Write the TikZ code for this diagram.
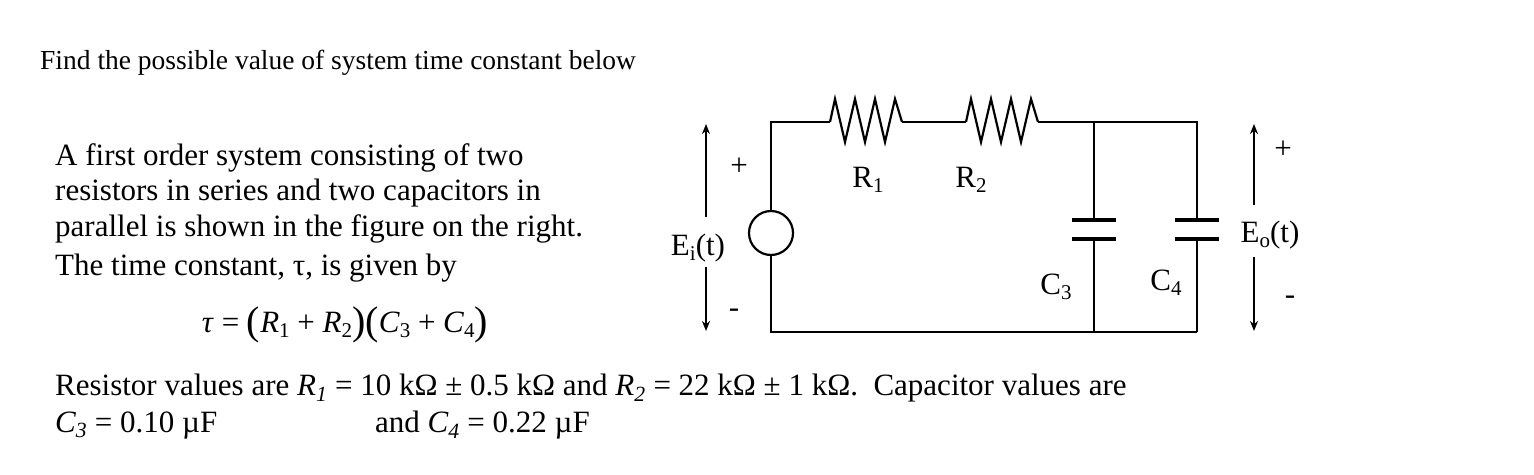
\documentclass[tikz,border=0pt]{standalone}
\usepackage{fontspec}
\setmainfont{Liberation Serif}
\usetikzlibrary{arrows.meta}
\newcommand{\lowsub}[1]{\raisebox{-0.35ex}{\fontsize{21}{24}\selectfont #1}}
\begin{document}
\begin{tikzpicture}[x=1pt,y=-1pt,
  wire/.style={line width=2.2pt},
  plate/.style={line width=3.5pt},
  txt/.style={anchor=west,inner sep=0pt,font=\fontsize{31}{34}\selectfont},
  lbl/.style={inner sep=0pt,font=\fontsize{31}{34}\selectfont},
  vol/.style={line width=1.8pt,-{Stealth[length=10pt,width=8pt]}}]
\useasboundingbox (0,0) rectangle (1534,474);

\tikzset{
  zigzag/.pic={
    \draw[wire] (0,0) -- (5,-23) -- (15,20) -- (25,-23) -- (35,20) -- (45,-23) -- (55,20) -- (65,-23) -- (72,0);
  }
}

\node[txt,font=\fontsize{27.5}{30}\selectfont] (title) at (40,63) {Find the possible value of system time constant below};
\node[txt] (l1) at (55,158) {A first order system consisting of two};
\node[txt] (l2) at (55,193) {resistors in series and two capacitors in};
\node[txt] (l3) at (55,229) {parallel is shown in the figure on the right.};
\node[txt] (l4) at (55,268) {The time constant, τ, is given by};
\node[lbl] (eq) at (345,325) {\textit{τ} = \raisebox{-2pt}{\fontsize{40}{40}\selectfont(}\textit{R}\lowsub{1} + \textit{R}\lowsub{2}\raisebox{-2pt}{\fontsize{40}{40}\selectfont)(}\textit{C}\lowsub{3} + \textit{C}\lowsub{4}\raisebox{-2pt}{\fontsize{40}{40}\selectfont)}};
\node[txt] (l5) at (55,388) {Resistor values are \textit{R\textsubscript{1}} = 10 kΩ ± 0.5 kΩ and \textit{R\textsubscript{2}} = 22 kΩ ± 1 kΩ.\ \ Capacitor values are};
\node[txt] (l6) at (55,425) {\textit{C\textsubscript{3}} = 0.10 µF};
\node[txt] (l7) at (375,425) {and \textit{C\textsubscript{4}} = 0.22 µF};

% circuit
\coordinate (tl) at (771,122);
\coordinate (bl) at (771,332);
\coordinate (r1a) at (830,122);
\coordinate (r1b) at (902,122);
\coordinate (r2a) at (966,122);
\coordinate (r2b) at (1038,122);
\coordinate (c3t) at (1094,122);
\coordinate (c3b) at (1094,332);
\coordinate (c4t) at (1197,122);
\coordinate (c4b) at (1197,332);
\node[draw,circle,line width=2.2pt,minimum size=44pt,inner sep=0pt] (src) at (771,233) {};
\draw[wire] (src.north) -- (tl) -- (r1a);
\pic at (r1a) {zigzag};
\draw[wire] (r1b) -- (r2a);
\pic at (r2a) {zigzag};
\draw[wire] (r2b) -- (c4t) -- (1197,220);
\draw[wire] (c3t) -- (1094,220);
\draw[plate] (1072,220) -- (1116,220) (1072,239) -- (1116,239);
\draw[plate] (1175,220) -- (1219,220) (1175,239) -- (1219,239);
\draw[line width=1.4pt] (1094,239) -- (c3b) (1197,239) -- (c4b);
\draw[wire] (src.south) -- (bl) -- (c4b);

\node[lbl] (r1) at (868,180) {R\lowsub{1}};
\node[lbl] (r2) at (971,180) {R\lowsub{2}};
\node[lbl] (c3) at (1056,287) {C\lowsub{3}};
\node[lbl] (c4) at (1166,283) {C\lowsub{4}};

\node[lbl] (ei) at (698,248) {E\lowsub{i}(t)};
\draw[vol] (706,217) -- (706,124);
\draw[vol] (706,267) -- (706,331);
\node[lbl] (eip) at (739,167) {+};
\node[lbl] (eim) at (734,313) {-};

\node[lbl] (eo) at (1270,235) {E\lowsub{o}(t)};
\draw[vol] (1254,205) -- (1254,124);
\draw[vol] (1254,257) -- (1254,331);
\node[lbl] (eop) at (1283,150) {+};
\node[lbl] (eom) at (1290,300) {-};
\end{tikzpicture}
\end{document}
